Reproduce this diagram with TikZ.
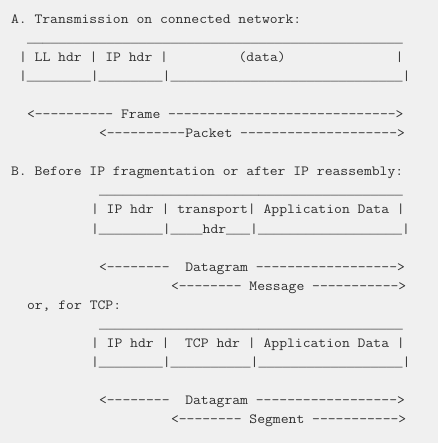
\documentclass[tikz,border=0pt]{standalone}
\usepackage{fontspec}
\setmonofont{Latin Modern Mono}[FakeStretch=1.088]
\newfontfamily\ulfont{Liberation Mono}
\definecolor{bgc}{HTML}{F0F0F0}
\definecolor{ink}{HTML}{2E2E2E}
\ExplSyntaxOn
\cs_new:Npn \rep #1#2 { \prg_replicate:nn {#1} {#2} }
\ExplSyntaxOff
\newcommand\us[1]{{\ulfont\fontsize{13.333}{19}\selectfont\rep{#1}{\_}}}
\tikzset{
  txt/.style={anchor=base west, inner sep=0pt, outer sep=0pt, text=ink,
    font=\ttfamily\fontsize{14}{19}\selectfont}
}
\newcommand\tl[4]{\node[txt] (#1) at ({11+8*#2},{-(24+19*#3)}) {#4};}
\begin{document}
\begin{tikzpicture}[x=1pt,y=1pt]
\fill[bgc] (0,0) rectangle (438,-443);
\useasboundingbox (0,0) rectangle (438,-443);
% Section A
\tl{ta}{0}{0}{A.\ Transmission\ on\ connected\ network:}
\tl{atop}{2}{1}{\us{47}}
\tl{amid}{1}{2}{|\ LL\ hdr\ |\ IP\ hdr\ |\rep{9}{\ }(data)\rep{14}{\ }|}
\tl{abot}{1}{3}{|\us{8}|\us{8}|\us{29}|}
\tl{frame}{2}{5}{<\rep{10}{-}\ Frame\ \rep{29}{-}>}
\tl{packet}{11}{6}{<\rep{10}{-}Packet\ \rep{20}{-}>}
% Section B
\tl{tb}{0}{8}{B.\ Before\ IP\ fragmentation\ or\ after\ IP\ reassembly:}
\tl{btop}{11}{9}{\us{38}}
\tl{bmid}{10}{10}{|\ IP\ hdr\ |\ transport|\ Application\ Data\ |}
\tl{bbot}{10}{11}{|\us{8}|\us{4}hdr\us{3}|\us{18}|}
\tl{dgb}{11}{13}{<\rep{8}{-}\ \ Datagram\ \rep{18}{-}>}
\tl{msg}{20}{14}{<\rep{8}{-}\ Message\ \rep{11}{-}>}
% TCP
\tl{tc}{2}{15}{or,\ for\ TCP:}
\tl{ctop}{11}{16}{\us{38}}
\tl{cmid}{10}{17}{|\ IP\ hdr\ |\ \ TCP\ hdr\ |\ Application\ Data\ |}
\tl{cbot}{10}{18}{|\us{8}|\us{10}|\us{18}|}
\tl{dgc}{11}{20}{<\rep{8}{-}\ \ Datagram\ \rep{18}{-}>}
\tl{seg}{20}{21}{<\rep{8}{-}\ Segment\ \rep{11}{-}>}
\end{tikzpicture}
\end{document}
